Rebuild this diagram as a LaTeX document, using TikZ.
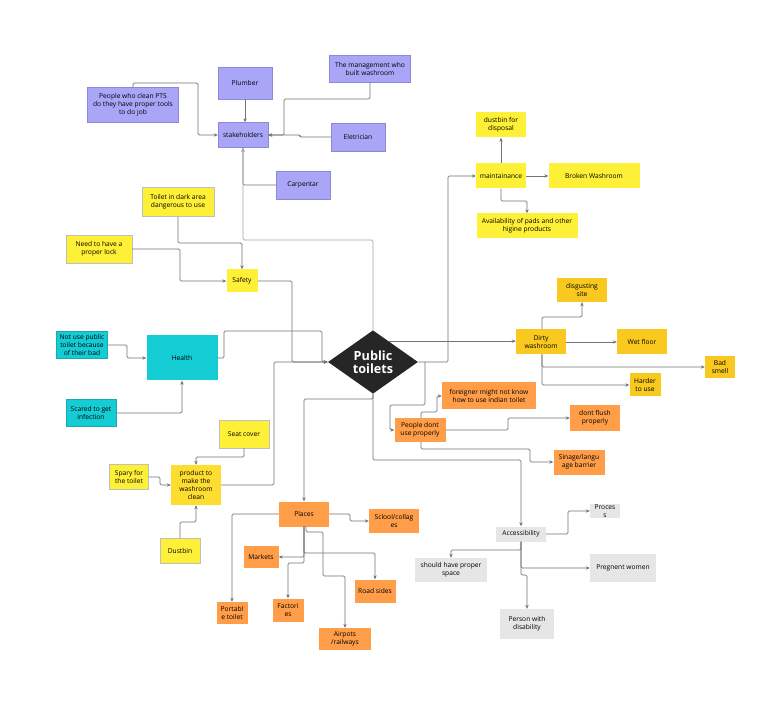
\documentclass[tikz,border=0pt]{standalone}
\usepackage{fontspec}
\setmainfont{Open Sans}
\usetikzlibrary{shapes.geometric,arrows.meta}
\definecolor{purpleC}{HTML}{A9A6F7}\definecolor{purpleB}{HTML}{8C88D6}
\definecolor{yelC}{HTML}{FEF036}\definecolor{dyelC}{HTML}{F9C91F}
\definecolor{oraC}{HTML}{FF9D48}\definecolor{cyaC}{HTML}{14CDD4}
\definecolor{cyaB}{HTML}{1AA9B0}\definecolor{gryC}{HTML}{E6E6E6}
\definecolor{prodC}{HTML}{FDDD2F}
\tikzset{
  box/.style n args={2}{draw=black!25,line width=0.3pt,align=center,inner sep=0pt,
    minimum width=#1*0.75pt,minimum height=#2*0.75pt,font=\fontsize{5}{6}\selectfont},
  pur/.style={fill=purpleC,draw=purpleB},
  yel/.style={fill=yelC},
  dyel/.style={fill=dyelC,draw=none},
  ora/.style={fill=oraC,draw=none},
  cya/.style={fill=cyaC,draw=cyaB},
  gry/.style={fill=gryC,draw=none},
  ln/.style={draw=black!55,line width=0.6pt,rounded corners=1pt},
  ar/.style={ln,-{Stealth[length=3pt,width=2.5pt]}}}
\begin{document}
\begin{tikzpicture}[x=0.75pt,y=-0.75pt]
\useasboundingbox[fill=white] (0,0) rectangle (768,727);
% stakeholders
\node[box={54}{32},pur] (plumb) at (245,83) {Plumber};
\node[box={91}{35},pur] (clean) at (133,105) {People who clean PTS\\do they have proper tools\\to do job};
\node[box={81}{27},pur] (mgmt) at (370,69) {The management who\\built washroom};
\node[box={50}{25},pur] (stake) at (243,135) {stakeholders};
\node[box={54}{28},pur] (elec) at (358,137) {Eletrician};
\node[box={54}{28},pur] (carp) at (303,185) {Carpentar};
% safety
\node[box={72}{29},yel] (dark) at (178,202) {Toilet in dark area\\dangerous to use};
\node[box={66}{28},yel] (lock) at (99,249) {Need to have a\\proper lock};
\node[box={31}{23},yel,draw=none] (safe) at (242,281) {Safety};
% health
\node[box={51}{27},cya] (notuse) at (82,345) {Not use public\\toilet because\\of their bad};
\node[box={71}{45},cya,draw=none] (health) at (182,358) {Health};
\node[box={50}{27},cya] (scared) at (91,413) {Scared to get\\infection};
% center
\node[diamond,fill=black!85,text=white,inner sep=0pt,minimum width=90*0.75pt,minimum height=61*0.75pt,align=center,font=\fontsize{9.5}{10}\selectfont\bfseries] (pt) at (373,362) {Public\\toilets};
% product
\node[box={50}{28},yel] (seat) at (244,434) {Seat cover};
\node[box={39}{25},yel] (spary) at (129,477) {Spary for\\the toilet};
\node[box={50}{40},fill=prodC,draw=none] (prod) at (196,485) {product to\\make the\\washroom\\clean};
\node[box={40}{25},yel] (dust) at (180,551) {Dustbin};
% places
\node[box={50}{25},ora] (places) at (304,514) {Places};
\node[box={50}{24},ora] (school) at (394,521) {Sclool/collag\\es};
\node[box={35}{22},ora] (markets) at (261,557) {Markets};
\node[box={41}{23},ora] (road) at (375,591) {Road sides};
\node[box={31}{22},ora] (port) at (232,613) {Portabl\\e toilet};
\node[box={31}{23},ora] (fact) at (288,610) {Factori\\es};
\node[box={52}{22},ora] (air) at (345,639) {Airpots\\/railways};
% maintenance
\node[box={50}{25},yel,draw=none] (dfd) at (501,125) {dustbin for\\disposal};
\node[box={50}{25},yel,draw=none] (maint) at (501,176) {maintainance};
\node[box={91}{25},yel,draw=none] (broken) at (594,176) {Broken Washroom};
\node[box={101}{25},yel,draw=none] (avail) at (527,226) {Availability of pads and other\\higine products};
% dirty
\node[box={50}{24},dyel] (disg) at (582,290) {disgusting\\site};
\node[box={50}{25},dyel] (dirty) at (541,342) {Dirty\\washroom};
\node[box={50}{25},dyel] (wet) at (642,342) {Wet floor};
\node[box={30}{22},dyel] (bad) at (720,367) {Bad\\smell};
\node[box={31}{23},dyel] (harder) at (645,385) {Harder\\to use};
% people
\node[box={94}{27},ora] (foreign) at (489,396) {foreigner might not know\\how to use indian toilet};
\node[box={51}{24},ora] (people) at (420,430) {People dont\\use properly};
\node[box={50}{25},ora] (flush) at (595,418) {dont flush\\properly};
\node[box={51}{25},ora] (sinage) at (579,462) {Sinage/langu\\age barrier};
% accessibility
\node[box={50}{15},gry] (acc) at (521,534) {Accessibility};
\node[box={30}{14},gry] (proc) at (605,511) {Proces\\s};
\node[box={72}{24},gry] (space) at (451,570) {should have proper\\space};
\node[box={66}{28},gry] (preg) at (623,568) {Pregnent women};
\node[box={54}{30},gry] (person) at (527,624) {Person with\\disability};
% ---- edges
\draw[ar] (clean.north) |- (198,83) |- (stake.west);
\draw[ar] (plumb.south) -- (plumb.south |- stake.north);
\draw[ar] (mgmt.south) |- (284,99) |- (stake.east);
\draw[ar] (elec.west) -| (300,135) -- (stake.east);
\draw[ar] (carp.west) -| (stake.south);
\draw[ar,draw=black!35] (pt.north) |- (243,240) -- (stake.south);
\draw[ar] (dark.south) |- (242,243) -- (safe.north);
\draw[ar] (lock.east) -| (180,281) -- (safe.west);
\draw[ar] (safe.east) -| (292,362) -- (pt.west);
\draw[ar] (health.east) -| (224,331) -| (322,362) -- (pt.west);
\draw[ar] (notuse.east) -| (127,358) -- (health.west);
\draw[ar] (scared.east) -| (health.south);
\draw[ar] (prod.east) -| (274,362) -- (pt.west);
\draw[ar] (seat.south) |- (196,457) -- (prod.north);
\draw[ar] (spary.east) -| (160,485) -- (prod.west);
\draw[ar] (dust.north) |- (196,522) -- (prod.south);
\draw[ar] (pt.south) |- (304,399) -- (places.north);
\draw[ar] (places.east) -| (350,521) -- (school.west);
\draw[ar] (places.west) -| (port.north);
\draw[ar] (304,526) |- (markets.east);
\draw[ar] (304,526) |- (375,553) -- (road.north);
\draw[ar] (304,526) |- (288,563) -- (fact.north);
\draw[ar] (306,526) |- (323,532) |- (345,576) -- (air.north);
\draw[ar] (pt.east) -| (448,176) -- (maint.west);
\draw[ar] (pt.53) -- (pt.53 -| dirty.west);
\draw[ar] (dirty.east) -- (wet.west);
\draw[ar] (542,354.5) |- (bad.west);
\draw[ar] (542,354.5) |- (harder.west);
\draw[ar] (542,329.5) |- (582,317) -- (disg.south);
\draw[ar] (maint.east) -- (broken.west);
\draw[ar] (maint.north) -- (dfd.south);
\draw[ar] (maint.south) |- (527,201) -- (avail.north);
\draw[ar] (425,362) |- (390,405) |- (people.west);
\draw[ar] (421,418) |- (437,412) |- (foreign.west);
\draw[ar] (people.east) -| (508,418) -- (flush.west);
\draw[ar] (421,442) |- (530,449) |- (sinage.west);
\draw[ar] (pt.south) |- (521,460) -- (acc.north);
\draw[ar] (acc.east) -| (568,511) -- (proc.west);
\draw[ar] (acc.south) |- (451,550) -- (space.north);
\draw[ar] (acc.south) |- (preg.west);
\draw[ar] (acc.south) |- (527,575) -- (person.north);
\end{tikzpicture}
\end{document}
